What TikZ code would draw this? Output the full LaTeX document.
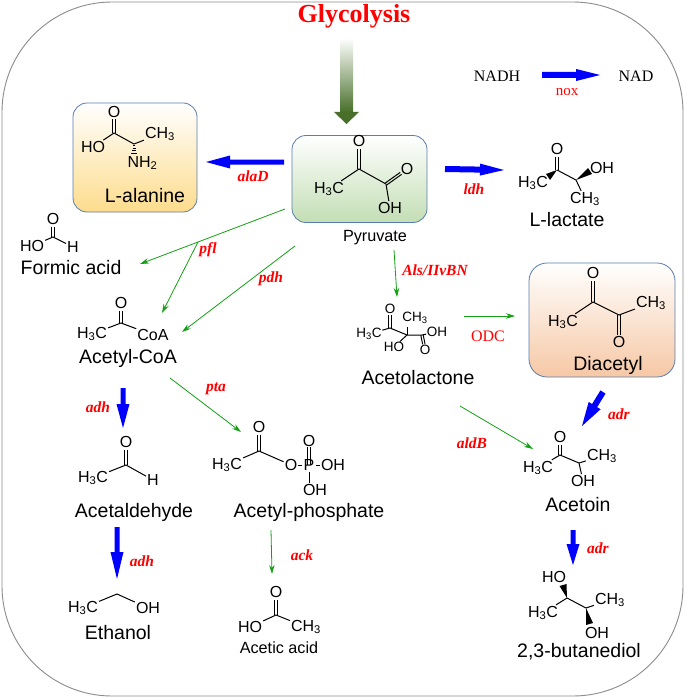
\documentclass[tikz,border=0pt]{standalone}
\usepackage{fontspec}
\setmainfont{Liberation Sans}
\newfontfamily\serifx{Liberation Serif}
\usetikzlibrary{arrows.meta,calc}
\definecolor{grn}{RGB}{20,160,20}
\definecolor{boxb}{RGB}{90,125,175}
\definecolor{alab}{RGB}{253,220,140}
\definecolor{pyrb}{RGB}{195,222,180}
\definecolor{diab}{RGB}{246,200,165}
\definecolor{olive}{RGB}{72,112,42}
\newcommand{\ttt}{\textsubscript{3}}
\tikzset{
 bond/.style={line width=1pt,black},
 atom/.style={inner sep=1pt,font=\fontsize{16}{17}\selectfont},
 satom/.style={inner sep=0.5pt,font=\fontsize{13.5}{14}\selectfont},
 molname/.style={inner sep=0pt,font=\fontsize{19.5}{21}\selectfont},
 smallname/.style={inner sep=0pt,font=\fontsize{16.2}{18}\selectfont},
 gene/.style={inner sep=0pt,text=red,font=\serifx\bfseries\itshape\fontsize{15.5}{17}\selectfont},
 plainlbl/.style={inner sep=0pt,font=\serifx\fontsize{16}{17}\selectfont},
 thinarrow/.style={draw=grn,line width=0.8pt,-{Stealth[length=9pt,width=5.5pt]}},
 bluearrow/.style={draw=none,fill=blue},
 boxnode/.style={draw=boxb,line width=0.8pt,inner sep=0pt},
}
% double bond from coordinate #1 to atom node #2
\newcommand{\dblbond}[3][7.5pt]{%
 \draw[bond,shorten >=#1] ($(#2)!1.2pt!90:(#3)$) -- ($(#3)!1.2pt!-90:(#2)$);
 \draw[bond,shorten >=#1] ($(#2)!1.2pt!-90:(#3)$) -- ($(#3)!1.2pt!90:(#2)$);}
% blue block arrow from #1 to #2, shaft half width #3, head length #4, head half width #5
\newcommand{\blockarrow}[5]{%
 \path let \p1=($(#2)-(#1)$), \n1={atan2(\y1,\x1)}, \n2={veclen(\x1,\y1)} in
 [shift={(#1)},rotate=\n1,bluearrow,x=1pt,y=1pt]
 (0pt,-#3pt) -- (\n2-#4pt,-#3pt) -- (\n2-#4pt,-#5pt) -- (\n2,0pt) -- (\n2-#4pt,#5pt) -- (\n2-#4pt,#3pt) -- (0pt,#3pt) -- cycle;}
\begin{document}
\begin{tikzpicture}[x=1pt,y=-1pt]
\useasboundingbox (0,0) rectangle (685,698);
\fill[white] (0,0) rectangle (685,698);
\draw[draw=black!45,line width=0.9pt,rounded corners=110pt] (2,2) rectangle (683,696);

% Boxes
\node[boxnode,rounded corners=14pt,top color=white,bottom color=alab,minimum width=124pt,minimum height=109pt] (alabox) at (135,157.5) {};
\node[boxnode,rounded corners=14pt,top color=white,bottom color=pyrb,minimum width=135pt,minimum height=87pt] (pyrbox) at (359.5,179) {};
\node[boxnode,rounded corners=18pt,top color=white,bottom color=diab,minimum width=146pt,minimum height=114pt] (diabox) at (602,320) {};

% Title
\node[inner sep=0pt,text=red,font=\serifx\bfseries\fontsize{26}{28}\selectfont] (title) at (354,16) {Glycolysis};
% Glycolysis arrow
\shade[top color=white,bottom color=olive] (340,38) rectangle (353,112);
\fill[olive] (334,112) -- (359,112) -- (346.5,124) -- cycle;

% NADH
\node[plainlbl] (nadh) at (497,76) {NADH};
\node[plainlbl] (nad) at (636,76) {NAD};
\node[inner sep=0pt,text=red,font=\serifx\fontsize{15}{16}\selectfont] (nox) at (567,92) {nox};
\coordinate (n1) at (542,75); \coordinate (n2) at (600,75);
\blockarrow{n1}{n2}{3}{24}{6}

% alaD
\coordinate (a1) at (284,162); \coordinate (a2) at (206,162);
\blockarrow{a1}{a2}{2.5}{24}{6.5}
\node[gene] (alaD) at (253,176) {alaD};
% ldh
\coordinate (l1) at (445,169); \coordinate (l2) at (504,170);
\blockarrow{l1}{l2}{3}{24}{6}
\node[gene] (ldh) at (474,189) {ldh};

% Alanine
\node[atom] (alaO) at (114,112) {O};
\node[atom] (alaHO) at (93,147) {HO};
\node[atom] (alaCH3) at (160,134) {CH\ttt};
\node[atom] (alaNH2) at (142.5,163) {NH\textsubscript{2}};
\coordinate (alaC) at (114,133); \coordinate (alaCa) at (134,144);
\dblbond{alaC}{alaO}
\draw[bond] (alaC) -- (alaHO);
\draw[bond] (alaC) -- (alaCa) -- (alaCH3);
\foreach \i in {0,...,3}{\draw[line width=0.8pt] ($(alaCa)+(-0.8-0.7*\i,1.5+2.5*\i)$) -- ($(alaCa)+(0.8+0.7*\i,1.5+2.5*\i)$);}
\node[molname] (alanine) at (145,196) {L-alanine};

% Pyruvate
\node[atom] (pyO) at (359,141) {O};
\node[atom] (pyO2) at (407,169) {O};
\node[atom] (pyOH) at (390,208) {OH};
\node[atom] (pyH3C) at (329,189) {H\ttt C};
\coordinate (pyC1) at (359,169); \coordinate (pyC2) at (386,184);
\dblbond{pyC1}{pyO}
\draw[bond] (pyH3C) -- (pyC1) -- (pyC2);
\dblbond{pyC2}{pyO2}
\draw[bond] (pyC2) -- (pyOH);
\node[smallname] (pyruvate) at (375,238) {Pyruvate};

% Lactate
\node[atom] (laO) at (557,149) {O};
\node[atom] (laOH) at (602,168) {OH};
\node[atom] (laH3C) at (533,183) {H\ttt C};
\node[atom] (laCH3) at (585,199) {CH\ttt};
\coordinate (laC1) at (557,170); \coordinate (laC2) at (576,180);
\dblbond{laC1}{laO}
\draw[bond] (laC1) -- (laC2) -- (laCH3);
\fill (laC1) -- (546,174) -- (550,180) -- cycle;
\fill (laC2) -- (588,168) -- (592,174) -- cycle;
\node[molname] (lactate) at (567,220) {L-lactate};

% Formic acid
\node[atom] (foO) at (53,219) {O};
\node[atom] (foHO) at (32,246) {HO};
\node[atom] (foH) at (73,247) {H};
\coordinate (foC) at (53,237);
\dblbond{foC}{foO}
\draw[bond] (foHO) -- (foC) -- (foH);
\node[molname] (formic) at (71,268) {Formic acid};

% pyruvate arrows
\coordinate (pf1) at (285,209); \coordinate (pf2) at (140,264);
\coordinate (pfj) at (198,242); \coordinate (pf3) at (162,313);
\draw[thinarrow] (pf1) -- (pf2);
\draw[thinarrow] (pfj) -- (pf3);
\node[gene] (pfl) at (208,250) {pfl};
\coordinate (pd1) at (295,246); \coordinate (pd2) at (182,332);
\draw[thinarrow] (pd1) -- (pd2);
\node[gene] (pdh) at (271,279) {pdh};

% Acetyl-CoA
\node[atom] (acO) at (121,303) {O};
\node[atom] (acH3C) at (92,334) {H\ttt C};
\node[atom] (acCoA) at (153,335) {CoA};
\coordinate (acC) at (121,323);
\dblbond{acC}{acO}
\draw[bond] (acH3C) -- (acC) -- (acCoA);
\node[molname] (acetylcoa) at (128,358) {Acetyl-CoA};

% adh 1
\coordinate (ad1) at (123,388); \coordinate (ad2) at (123,428);
\blockarrow{ad1}{ad2}{2.5}{24}{6.5}
\node[gene] (adh1) at (98,407) {adh};
% Acetaldehyde
\node[atom] (aaO) at (126,442) {O};
\node[atom] (aaH3C) at (93,478) {H\ttt C};
\node[atom] (aaH) at (153,480) {H};
\coordinate (aaC) at (126,465);
\dblbond{aaC}{aaO}
\draw[bond] (aaH3C) -- (aaC) -- (aaH);
\node[molname] (acetald) at (134,512) {Acetaldehyde};
% adh 2
\coordinate (ae1) at (117,527); \coordinate (ae2) at (117,579);
\blockarrow{ae1}{ae2}{2.5}{27}{6.5}
\node[gene] (adh2) at (142,561) {adh};
% Ethanol
\node[atom] (etH3C) at (83,608) {H\ttt C};
\node[atom] (etOH) at (148,608) {OH};
\coordinate (etC) at (117,594);
\draw[bond] (etH3C) -- (etC) -- (etOH);
\node[molname] (ethanol) at (118,633) {Ethanol};

% pta
\coordinate (pt1) at (170,378); \coordinate (pt2) at (241,432);
\draw[thinarrow] (pt1) -- (pt2);
\node[gene] (pta) at (216,389) {pta};
% Acetyl-phosphate
\node[atom] (apO) at (259,427) {O};
\node[atom] (apH3C) at (227,465) {H\ttt C};
\node[atom] (apO2) at (291,465) {O};
\node[atom] (apP) at (309,465) {P};
\node[atom] (apOH1) at (333,465) {OH};
\node[atom] (apOdb) at (309,441) {O};
\node[atom] (apOH2) at (315,490) {OH};
\coordinate (apC) at (259,451);
\dblbond{apC}{apO}
\draw[bond] (apH3C) -- (apC) -- (apO2);
\draw[bond] (apO2) -- (apP) -- (apOH1);
\dblbond[6pt]{apP}{apOdb}
\draw[bond] (apP) -- (309,483);
\node[molname] (acetylp) at (309,512) {Acetyl-phosphate};
% ack
\coordinate (ak1) at (271,530); \coordinate (ak2) at (272,574);
\draw[thinarrow] (ak1) -- (ak2);
\node[gene] (ack) at (302,555) {ack};
% Acetic acid
\node[atom] (aoO) at (276,592) {O};
\node[atom] (aoHO) at (250,627) {HO};
\node[atom] (aoCH3) at (306,627) {CH\ttt};
\coordinate (aoC) at (276,615);
\dblbond{aoC}{aoO}
\draw[bond] (aoHO) -- (aoC) -- (aoCH3);
\node[smallname] (acetic) at (279,648) {Acetic acid};

% Als
\coordinate (as1) at (394,250); \coordinate (as2) at (397,297);
\draw[thinarrow] (as1) -- (as2);
\node[gene] (als) at (435,270) {Als/IIvBN};
% Acetolactone
\node[satom] (lcO) at (390,309) {O};
\node[satom] (lcH3C) at (369,334) {H\ttt C};
\node[satom] (lcCH3) at (415,318) {CH\ttt};
\node[satom] (lcOH) at (437,332) {OH};
\node[satom] (lcHO) at (394,347) {HO};
\node[satom] (lcO2) at (425,350) {O};
\coordinate (lcC) at (390,328); \coordinate (lcM) at (407,335); \coordinate (lcK) at (422,335);
\dblbond[6pt]{lcC}{lcO}
\draw[bond] (lcH3C) -- (lcC) -- (lcM) -- (lcK) -- (lcOH);
\dblbond[6pt]{lcK}{lcO2}
\draw[bond] (lcM) -- (407,327);
\draw[bond] (lcM) -- (lcHO);
\node[molname] (acetolactone) at (418,378) {Acetolactone};
% ODC
\coordinate (od1) at (464,316); \coordinate (od2) at (515,316);
\draw[thinarrow] (od1) -- (od2);
\node[inner sep=0pt,text=red,font=\serifx\fontsize{16}{17}\selectfont] (odc) at (488,336) {ODC};
% Diacetyl
\node[atom] (diO) at (593,273) {O};
\node[atom] (diO2) at (619,342) {O};
\node[atom] (diH3C) at (563,322) {H\ttt C};
\node[atom] (diCH3) at (651,303) {CH\ttt};
\coordinate (diC1) at (593,302); \coordinate (diC2) at (619,315);
\dblbond{diC1}{diO}
\dblbond{diC2}{diO2}
\draw[bond] (diH3C) -- (diC1) -- (diC2) -- (diCH3);
\node[molname] (diacetyl) at (608,365) {Diacetyl};
% adr 1
\coordinate (d1) at (603,392); \coordinate (d2) at (582,426);
\blockarrow{d1}{d2}{3}{24}{7}
\node[gene] (adr1) at (619,414) {adr};
% aldB
\coordinate (b1) at (460,406); \coordinate (b2) at (533,449);
\draw[thinarrow] (b1) -- (b2);
\node[gene] (aldB) at (472,443) {aldB};
% Acetoin
\node[atom] (tnO) at (560,437) {O};
\node[atom] (tnH3C) at (538,468) {H\ttt C};
\node[atom] (tnCH3) at (602,456) {CH\ttt};
\node[atom] (tnOH) at (583,481) {OH};
\coordinate (tnC) at (560,455); \coordinate (tnM) at (579,463);
\dblbond{tnC}{tnO}
\draw[bond] (tnH3C) -- (tnC) -- (tnM) -- (tnCH3);
\draw[bond] (tnM) -- (tnOH);
\node[molname] (acetoin) at (578,505) {Acetoin};
% adr 2
\coordinate (e1) at (573,530); \coordinate (e2) at (573,565);
\blockarrow{e1}{e2}{2.5}{21}{6.5}
\node[gene] (adr2) at (598,548) {adr};
% Butanediol
\node[atom] (buHO) at (554,577) {HO};
\node[atom] (buH3C) at (543,613) {H\ttt C};
\node[atom] (buCH3) at (610,600) {CH\ttt};
\node[atom] (buOH) at (597,632.5) {OH};
\coordinate (buC1) at (567,598); \coordinate (buC2) at (586,608);
\draw[bond] (buH3C) -- (buC1) -- (buC2) -- (buCH3);
\fill (buC1) -- (559.5,586) -- (566.5,584) -- cycle;
\fill (buC2) -- (586,625) -- (593,623) -- cycle;
\node[molname] (butanediol) at (579,651.5) {2,3-butanediol};
\end{tikzpicture}
\end{document}
